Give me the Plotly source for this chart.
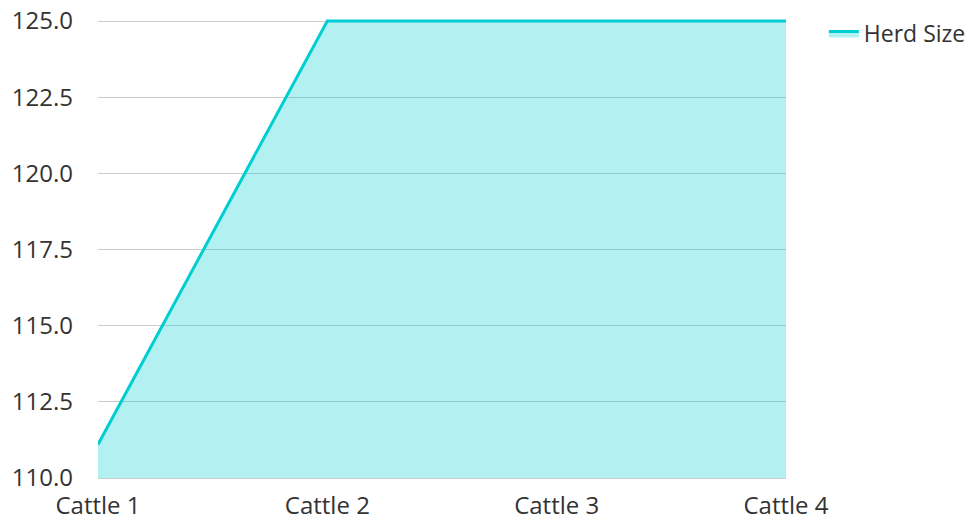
import plotly.graph_objects as go

categories = ["Cattle 1", "Cattle 2", "Cattle 3", "Cattle 4"]
herd_size = [111.1, 125, 125, 125]
y_ticks = [110.0, 112.5, 115.0, 117.5, 120.0, 122.5, 125.0]

fig = go.Figure()
fig.add_trace(go.Scatter(
    x=categories, y=herd_size, name="Herd Size", mode="lines",
    line=dict(color="#00CED1", width=3),
    fill="tozeroy", fillcolor="rgba(0,206,209,0.3)",
))
fig.update_layout(
    width=979, height=520,
    margin=dict(l=90, r=201, t=10, b=50, autoexpand=False),
    paper_bgcolor="white", plot_bgcolor="white",
    font=dict(family="Open Sans", size=24, color="#333"),
    showlegend=True,
    legend=dict(x=1.055, y=1.013, xanchor="left", yanchor="top",
                font=dict(size=23), bgcolor="rgba(0,0,0,0)"),
    xaxis=dict(range=[0, 3], showgrid=False, zeroline=False,
               showline=True, linecolor="rgba(0,0,0,0.2)", linewidth=1,
               ticks="", tickfont=dict(size=24), automargin=False,
               ticklabelstandoff=6),
    yaxis=dict(range=[110, 125.1], tickvals=y_ticks,
               ticktext=[f"{v:.1f}" for v in y_ticks],
               showgrid=True, gridcolor="rgba(0,0,0,0.2)", gridwidth=1,
               zeroline=False, showline=False, ticks="", tickfont=dict(size=24),
               automargin=False, ticklabelstandoff=24,
               ticklabeloverflow="allow"),
)
fig.write_html("out.html")
